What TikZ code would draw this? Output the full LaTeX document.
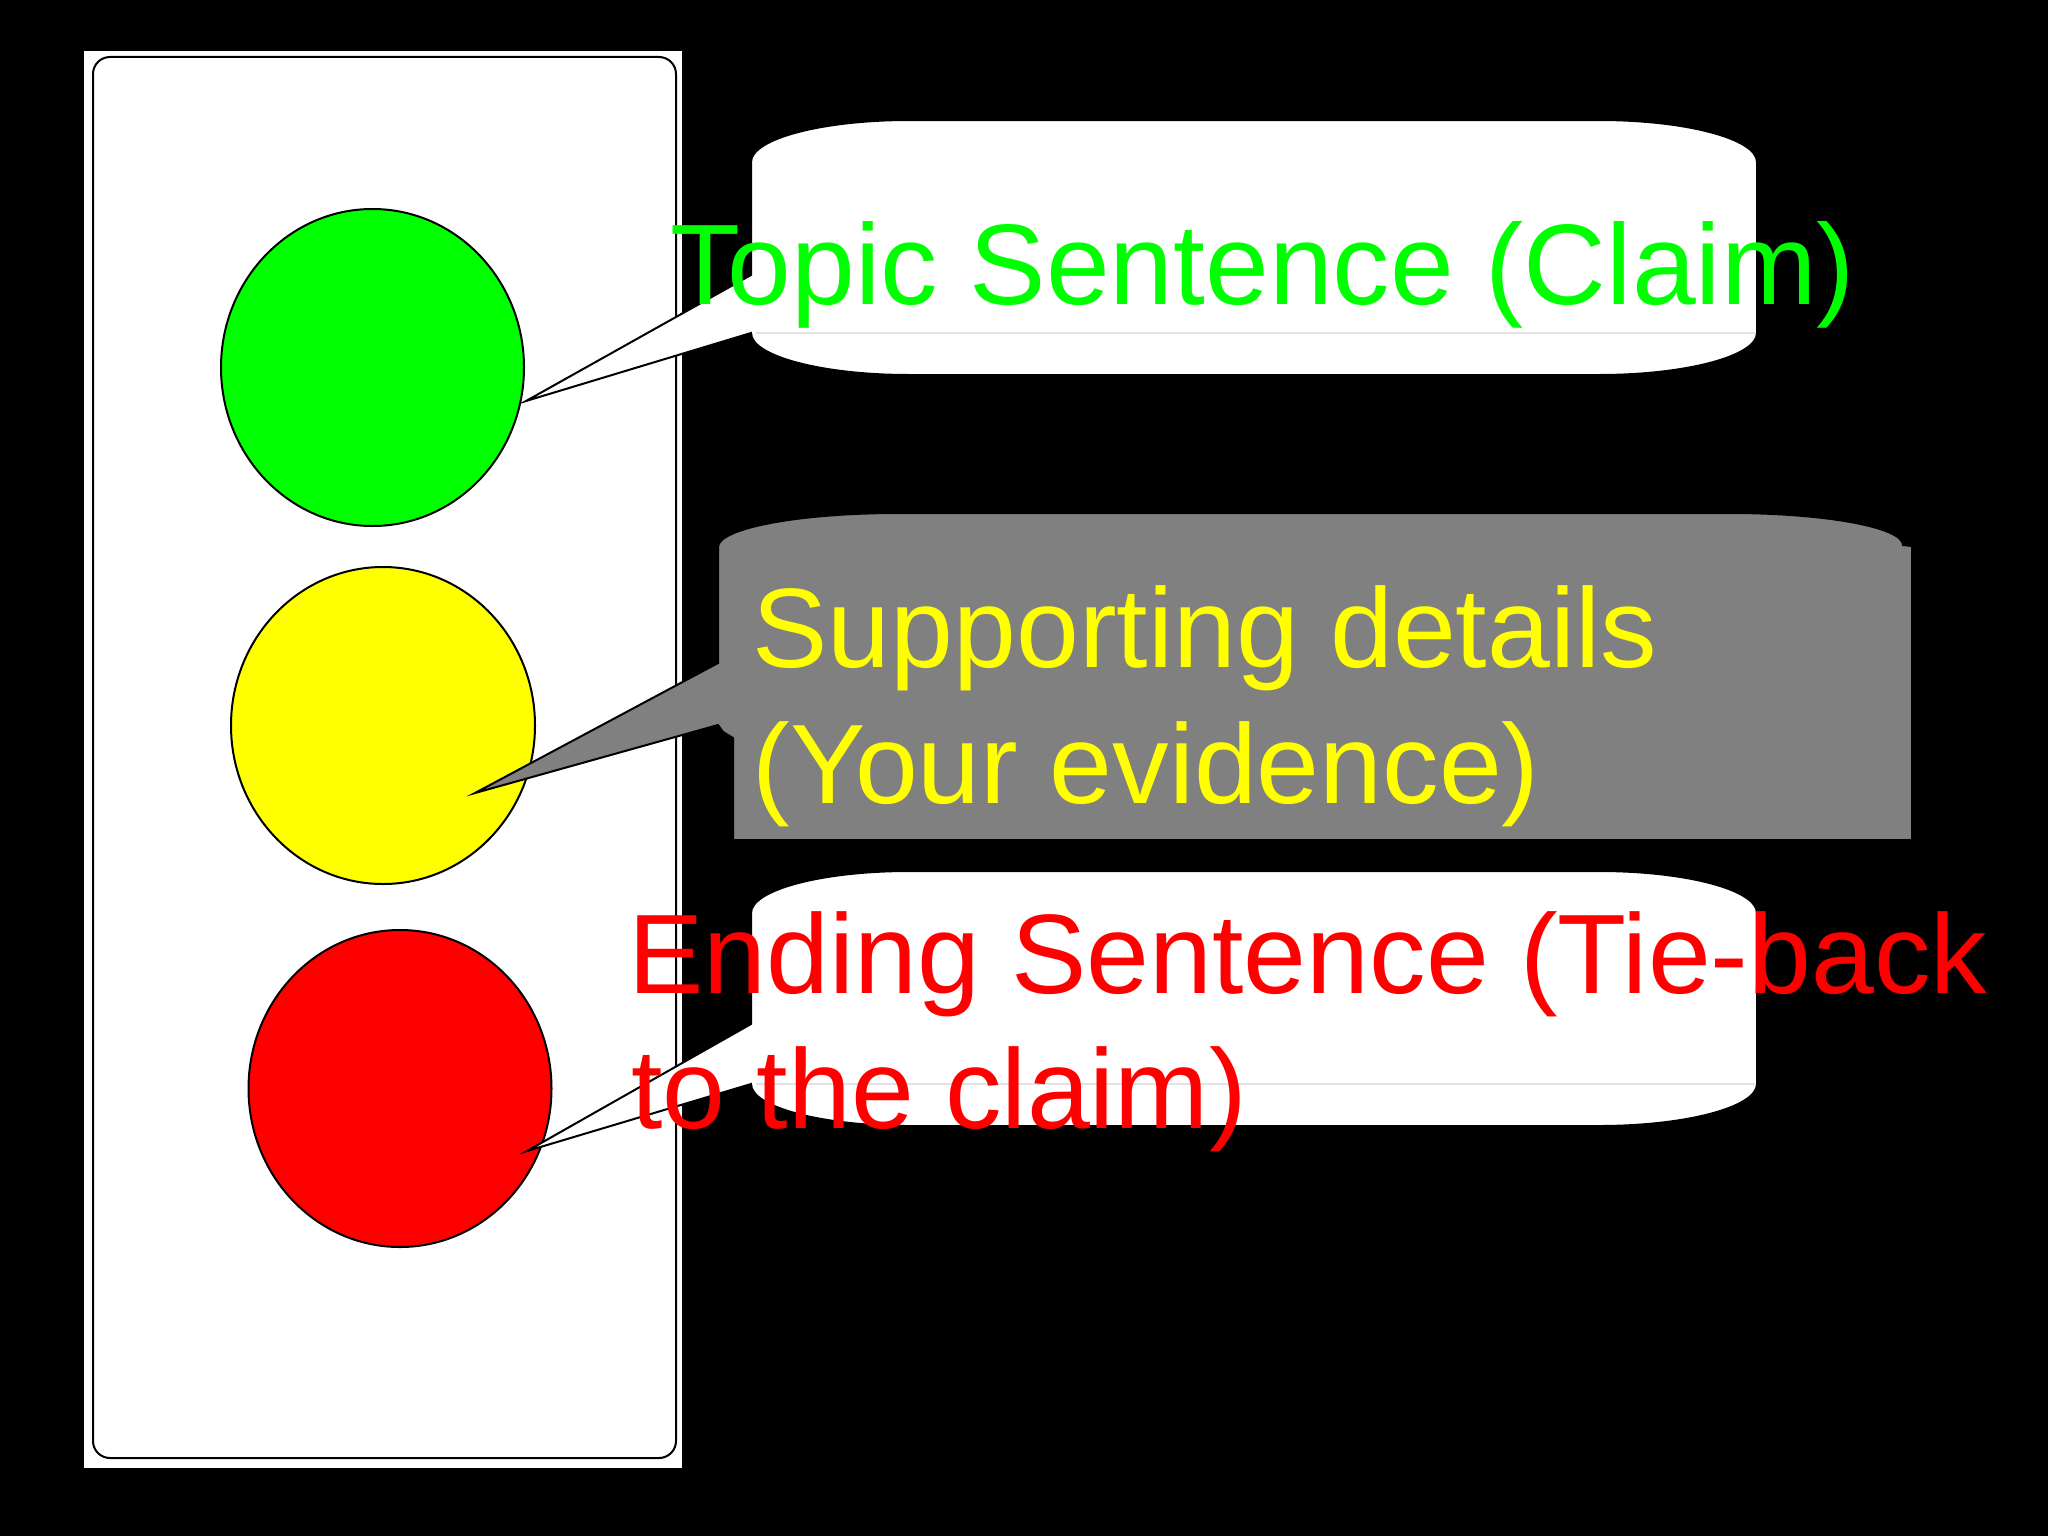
\documentclass[tikz,border=0pt]{standalone}
\usepackage{fontspec}
\setmainfont{Liberation Sans}
\definecolor{tgreen}{HTML}{00FF00}
\definecolor{tyellow}{HTML}{FFFF00}
\definecolor{tred}{HTML}{FF0000}
\definecolor{cgray}{HTML}{808080}
\tikzset{
  lamp/.style={draw=black, line width=1pt},
  bubble/.style={draw=black, line width=1pt, line join=miter},
  label/.style={anchor=base west, inner sep=0pt, font=\fontsize{56.5}{67.5}\selectfont},
  seam/.style={draw=gray!22, line width=0.6pt}
}
\begin{document}
\begin{tikzpicture}[x=0.5pt, y=-0.5pt]
% background
\fill[black] (0,0) rectangle (2048,1536);
\useasboundingbox (0,0) rectangle (2048,1536);
% traffic light body
\fill[white] (84,51) rectangle (682,1468);
\draw[black, line width=1pt, rounded corners=8.5pt] (93,57) rectangle (676,1458);
% lamps
\draw[lamp, fill=tgreen] (372.5,367.5) ellipse [x radius=75.75pt, y radius=79.25pt];
\draw[lamp, fill=tyellow] (383,725.5) ellipse [x radius=76pt, y radius=79.25pt];
\draw[lamp, fill=tred] (400,1088.5) ellipse [x radius=75.75pt, y radius=79.25pt];
% callout 1 (white)
\draw[bubble, fill=white] (751,162) .. controls (751,138.8) and (821.7,120) .. (909,120)
  -- (1599,120) .. controls (1686.3,120) and (1757,138.8) .. (1757,162)
  -- (1757,333) .. controls (1757,356.2) and (1686.3,375) .. (1599,375)
  -- (909,375) .. controls (821.7,375) and (751,356.2) .. (751,333)
  -- (526,401) -- (751,275) -- cycle;
\draw[seam] (756,333) -- (1755,333);
% callout 2 (gray)
\draw[bubble, fill=cgray] (733,840) -- (733,738) -- (723,732) -- (718,725) -- (475,793) -- (718,663)
  -- (718,547) .. controls (718,528.2) and (798.6,513) .. (898,513)
  -- (1730,513) .. controls (1825.5,513) and (1903,527.3) .. (1903,545)
  -- (1912,546) -- (1912,840) -- cycle;
% callout 3 (white)
\draw[bubble, fill=white] (751,913) .. controls (751,889.8) and (821.7,871) .. (909,871)
  -- (1599,871) .. controls (1686.3,871) and (1757,889.8) .. (1757,913)
  -- (1757,1084) .. controls (1757,1107.2) and (1686.3,1126) .. (1599,1126)
  -- (909,1126) .. controls (821.7,1126) and (751,1107.2) .. (751,1084)
  -- (527,1151) -- (751,1024) -- cycle;
\draw[seam] (756,1084) -- (1755,1084);
% texts
\node[label, text=tgreen, font=\fontsize{57.3}{68}\selectfont] (t1) at (670,304) {Topic Sentence (Claim)};
\node[label, text=tyellow] (t2a) at (752,667) {Supporting details};
\node[label, text=tyellow] (t2b) at (752,803) {(Your evidence)};
\node[label, text=tred] (t3a) at (628,993) {Ending Sentence (Tie-back};
\node[label, text=tred] (t3b) at (631,1128) {to the claim)};
\end{tikzpicture}
\end{document}
